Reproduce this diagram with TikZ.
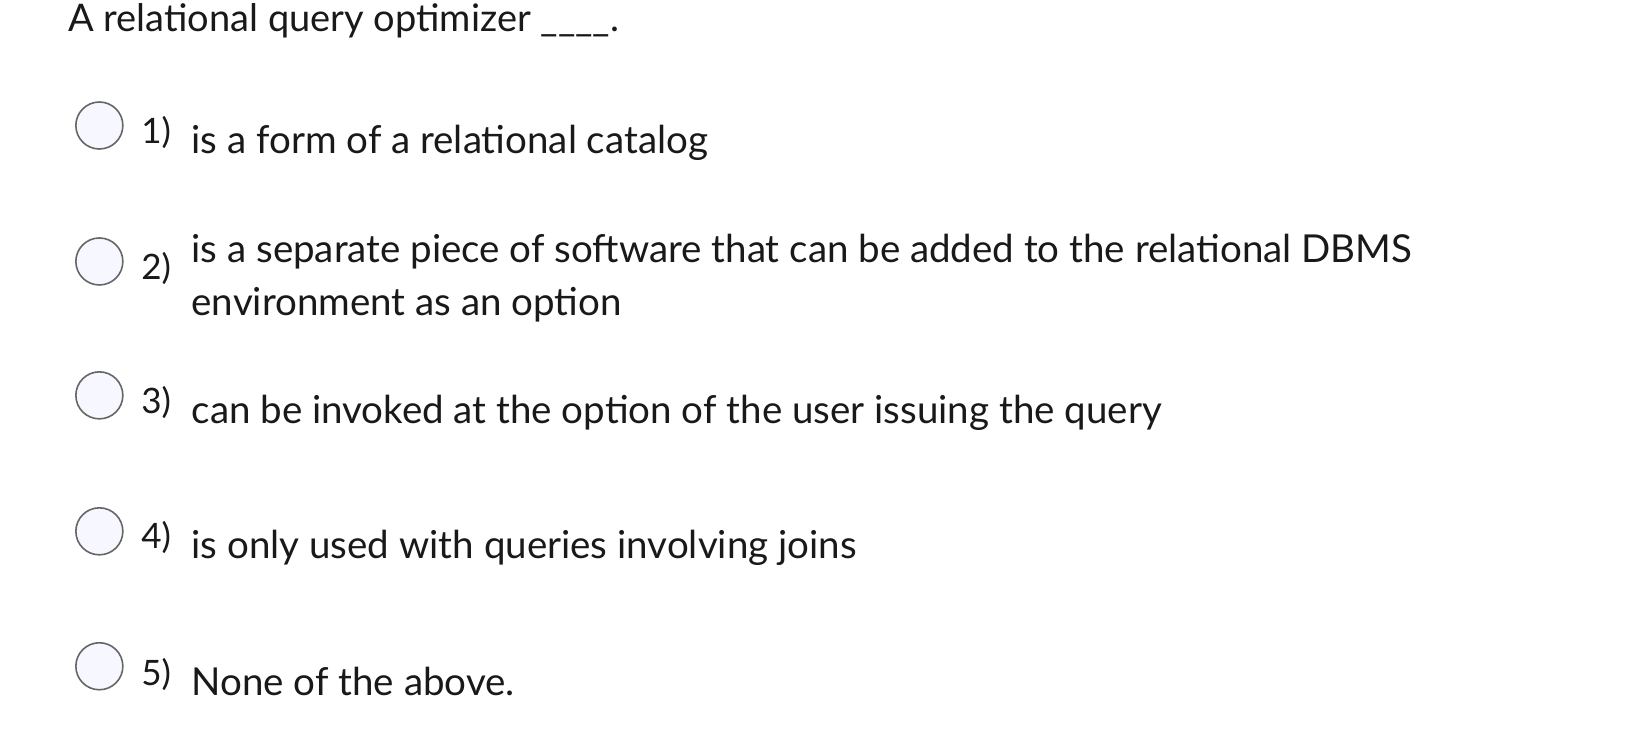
\documentclass[tikz,border=0pt]{standalone}
\usepackage{fontspec}
\setmainfont{Lato}
\begin{document}
\begin{tikzpicture}[x=1.046pt,y=-1.046pt,
  radio/.style={circle,draw=black!60,line width=1.6pt,fill=blue!3,minimum size=47pt,inner sep=0},
  num/.style={anchor=west,font=\fontsize{35}{40}\selectfont,text=black!90,inner sep=0},
  ans/.style={anchor=west,font=\fontsize{38.5}{53.5}\selectfont,text=black!90,inner sep=0,align=left}]
\useasboundingbox[fill=white] (0,0) rectangle (1568,702);
\node[anchor=base west,inner sep=0,font=\fontsize{38}{44}\selectfont,text=black!90] (t) at (65,30) {A relational query optimizer \_\_\_\_.};
\node[radio] (c1) at (95,120) {};
\node[num] (n1) at (135,127) {1)};
\node[ans] (a1) at (183,137) {is a form of a relational catalog};
\node[radio] (c2) at (95,250) {};
\node[num] (n2) at (135,257) {2)};
\node[ans] (a2) at (183,266) {is a separate piece of software that can be added to the relational DBMS\\environment as an option};
\node[radio] (c3) at (95,378) {};
\node[num] (n3) at (135,385) {3)};
\node[ans] (a3) at (183,395) {can be invoked at the option of the user issuing the query};
\node[radio] (c4) at (95,508) {};
\node[num] (n4) at (135,514) {4)};
\node[ans] (a4) at (183,524) {is only used with queries involving joins};
\node[radio] (c5) at (95,637) {};
\node[num] (n5) at (135,645) {5)};
\node[ans] (a5) at (183,652) {None of the above.};
\end{tikzpicture}
\end{document}
